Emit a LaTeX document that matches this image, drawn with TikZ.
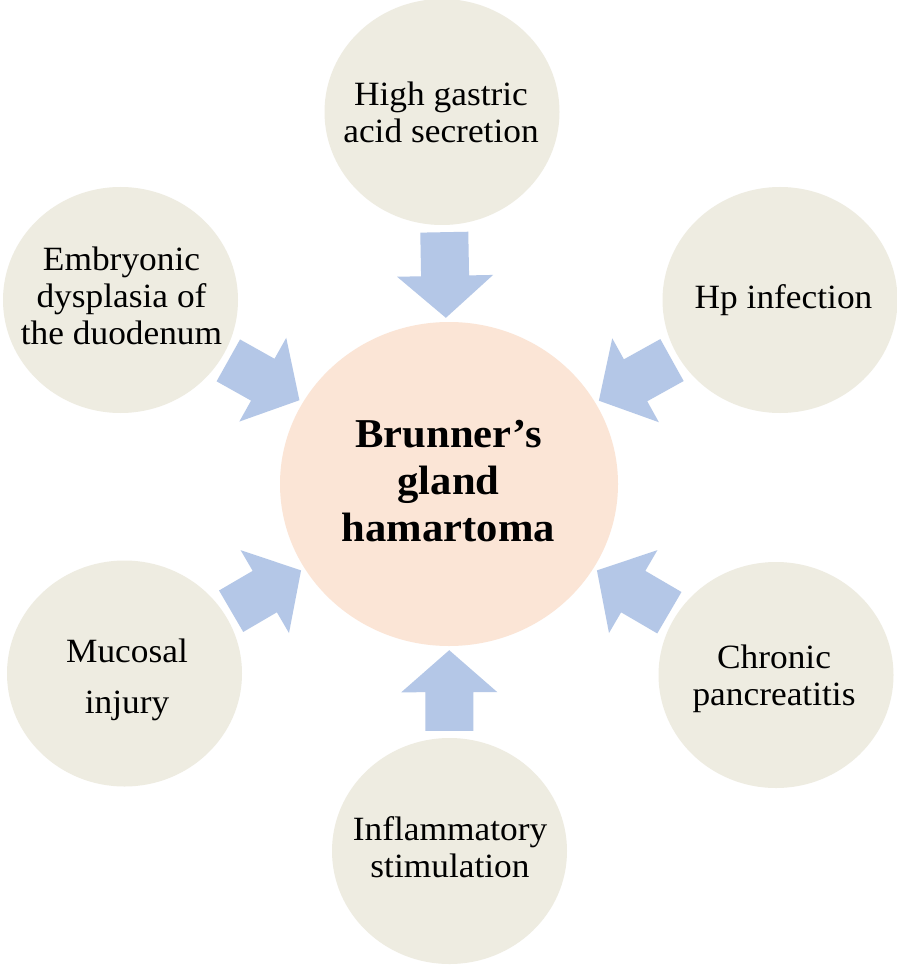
\documentclass[tikz,border=0pt]{standalone}
\usepackage{fontspec}
\setmainfont{Liberation Serif}[FakeStretch=1.04]
\usetikzlibrary{calc,shapes.geometric}
\definecolor{outerfill}{HTML}{EEECE1}
\definecolor{mainfill}{HTML}{FBE5D6}
\definecolor{arrowblue}{HTML}{B4C7E7}
% block arrow from node #1 towards node #2
\newcommand{\blockarrow}[2]{%
  \path (#1) -- (#2) coordinate[pos=0] (ba1) coordinate[pos=1] (ba2);
  \coordinate (bt) at ($(ba1)!7pt!(ba2)$);
  \coordinate (bp) at ($(ba2)!4pt!(ba1)$);
  \coordinate (bh) at ($(bp)!42pt!(bt)$);
  \fill[flow] ($(bt)!24pt!90:(bp)$) -- ($(bh)!24pt!90:(bp)$) -- ($(bh)!48pt!90:(bp)$)
    -- (bp) -- ($(bh)!48pt!-90:(bp)$) -- ($(bh)!24pt!-90:(bp)$) -- ($(bt)!24pt!-90:(bp)$) -- cycle;
}
\begin{document}
\begin{tikzpicture}[x=1pt,y=-1pt,
  cause/.style={ellipse, fill=outerfill, minimum width=235pt, minimum height=226pt, inner sep=0pt},
  hub/.style={ellipse, fill=mainfill, minimum width=338pt, minimum height=324pt, inner sep=0pt},
  txt/.style={align=center, inner sep=0pt, font=\fontsize{34}{37}\selectfont},
  hubtxt/.style={align=center, inner sep=0pt, font=\fontsize{41}{47}\selectfont\bfseries},
  flow/.style={fill=arrowblue}
]
\useasboundingbox (0,0) rectangle (896,965);
\fill[white] (0,0) rectangle (896,965);
\node[hub] (main) at (449,484) {};
\node[cause] (acid) at (442,112) {};
\node[cause] (hp) at (780,300) {};
\node[cause] (emb) at (120.5,300) {};
\node[cause] (muc) at (124.5,673.5) {};
\node[cause] (chr) at (776,675) {};
\node[cause] (inf) at (449.5,851) {};
\blockarrow{acid}{main}
\blockarrow{hp}{main}
\blockarrow{emb}{main}
\blockarrow{muc}{main}
\blockarrow{chr}{main}
\blockarrow{inf}{main}
\node[txt] (acidt) at (441,112) {High gastric\\acid secretion};
\node[txt] (hpt) at (783.5,300) {Hp infection};
\node[txt] (embt) at (121.5,296) {Embryonic\\dysplasia of\\the duodenum};
\node[txt, font=\fontsize{34}{51}\selectfont] (muct) at (127,680) {Mucosal\\injury};
\node[txt] (chrt) at (774,679) {Chronic\\pancreatitis};
\node[txt] (inft) at (450,847.5) {Inflammatory\\stimulation};
\node[hubtxt] (maint) at (448.5,481.5) {Brunner’s\\gland\\hamartoma};
\end{tikzpicture}
\end{document}
